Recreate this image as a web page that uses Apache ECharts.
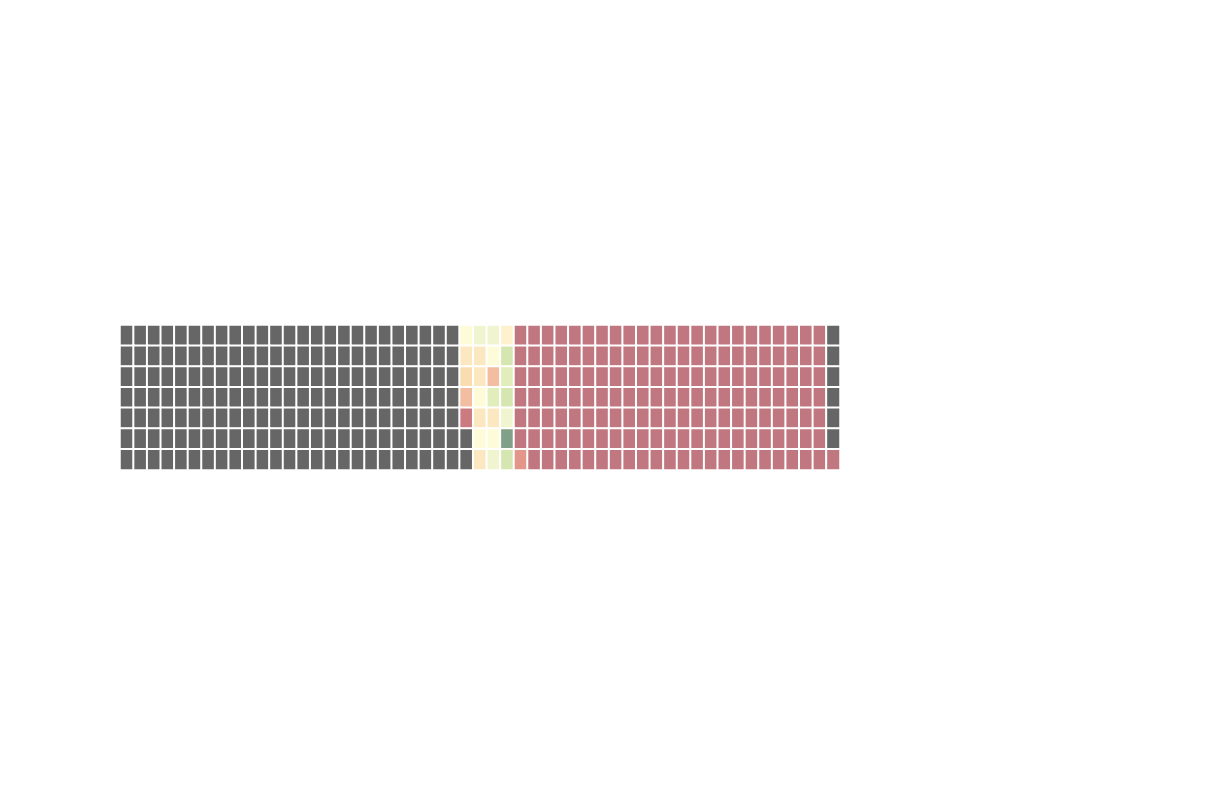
<!DOCTYPE html>
<html>
<head>
<meta charset="utf-8">
<script src="https://cdn.jsdelivr.net/npm/echarts@6/dist/echarts.min.js"></script>
<style>html,body{margin:0;padding:0;background:#fff}#c{width:1212px;height:790px}</style>
</head>
<body>
<div id="c"></div>
<script>
// 53 columns x 7 rows; value = colour level (0 = no data)
var columns = ['1','2','3','4','5','6','7','8','9','10','11','12','13','14','15','16','17','18','19','20','21','22','23','24','25','26','27','28','29','30','31','32','33','34','35','36','37','38','39','40','41','42','43','44','45','46','47','48','49','50','51','52','53'];
var rows = ['r1','r2','r3','r4','r5','r6','r7'];
var row1 = [0,0,0,0,0,0,0,0,0,0,0,0,0,0,0,0,0,0,0,0,0,0,0,0,0, 5,4,4,6, 12,12,12,12,12,12,12,12,12,12,12,12,12,12,12,12,12,12,12,12,12,12,12, 0];
var row2 = [0,0,0,0,0,0,0,0,0,0,0,0,0,0,0,0,0,0,0,0,0,0,0,0,0, 7,7,5,2, 12,12,12,12,12,12,12,12,12,12,12,12,12,12,12,12,12,12,12,12,12,12,12, 0];
var row3 = [0,0,0,0,0,0,0,0,0,0,0,0,0,0,0,0,0,0,0,0,0,0,0,0,0, 8,7,9,3, 12,12,12,12,12,12,12,12,12,12,12,12,12,12,12,12,12,12,12,12,12,12,12, 0];
var row4 = [0,0,0,0,0,0,0,0,0,0,0,0,0,0,0,0,0,0,0,0,0,0,0,0,0, 9,5,3,2, 12,12,12,12,12,12,12,12,12,12,12,12,12,12,12,12,12,12,12,12,12,12,12, 0];
var row5 = [0,0,0,0,0,0,0,0,0,0,0,0,0,0,0,0,0,0,0,0,0,0,0,0,0, 11,7,7,4, 12,12,12,12,12,12,12,12,12,12,12,12,12,12,12,12,12,12,12,12,12,12,12, 0];
var row6 = [0,0,0,0,0,0,0,0,0,0,0,0,0,0,0,0,0,0,0,0,0,0,0,0,0, 0,5,5,1, 12,12,12,12,12,12,12,12,12,12,12,12,12,12,12,12,12,12,12,12,12,12,12, 0];
var row7 = [0,0,0,0,0,0,0,0,0,0,0,0,0,0,0,0,0,0,0,0,0,0,0,0,0, 0,7,4,2, 10,12,12,12,12,12,12,12,12,12,12,12,12,12,12,12,12,12,12,12,12,12,12, 12];
var levelColors = ['#666666','#80a088','#d5e6b0','#e1edbb','#f0f5d0','#fefbd8','#fdf2cd','#fce8c0','#f9dcb0','#f2bda0','#e2978a','#cb7a80','#c0777f'];

var allRows = [row1,row2,row3,row4,row5,row6,row7];
var data = [];
allRows.forEach(function(r, yi){
  r.forEach(function(v, xi){ data.push([xi, yi, v]); });
});
var pieces = levelColors.map(function(c, i){ return {value: i, color: c}; });

var chart = echarts.init(document.getElementById('c'));
chart.setOption({
  animation: false,
  grid: {left: 120, top: 325, width: 720, height: 145, containLabel: false},
  xAxis: {type: 'category', data: columns, show: false},
  yAxis: {type: 'category', data: rows, inverse: true, show: false},
  visualMap: {type: 'piecewise', show: false, dimension: 2, pieces: pieces},
  series: [{
    type: 'heatmap',
    data: data,
    itemStyle: {borderColor: '#ffffff', borderWidth: 2},
    emphasis: {disabled: true}
  }]
});
</script>
</body>
</html>
